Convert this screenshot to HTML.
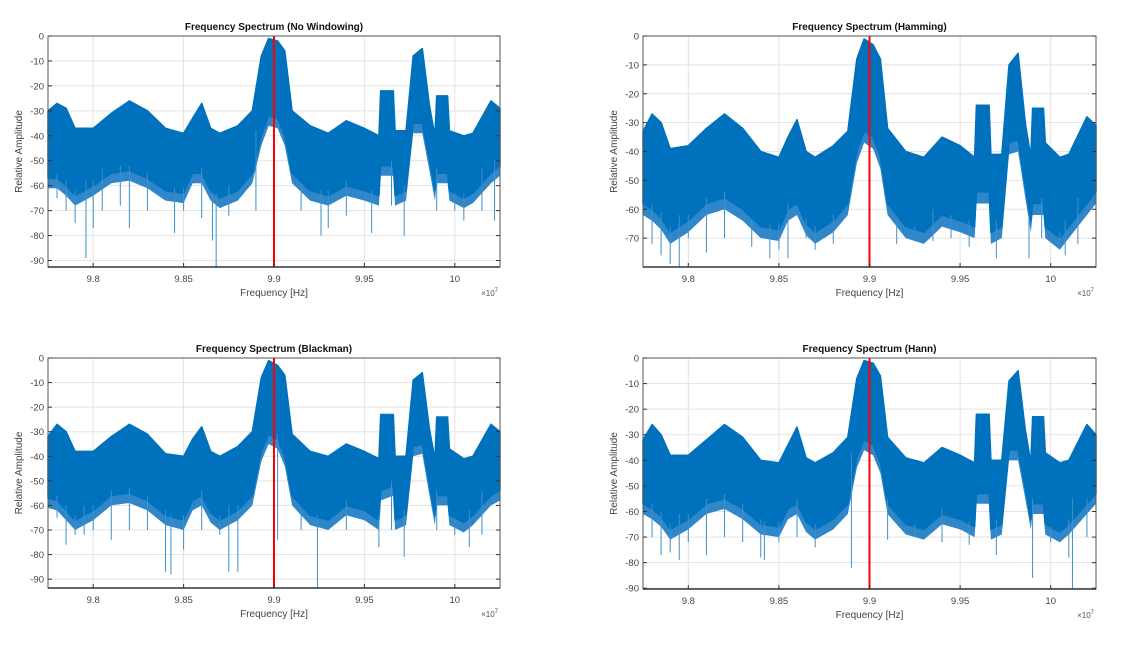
<!DOCTYPE html>
<html><head><meta charset="utf-8">
<style>
html,body{margin:0;padding:0;background:#fff;}
svg{display:block;font-family:"Liberation Sans",Arial,sans-serif;}
</style></head>
<body>
<svg id="fig" width="1137" height="650" viewBox="0 0 1137 650" xmlns="http://www.w3.org/2000/svg"></svg>
<script>
// Frequency grid (x 1e7 Hz)
const freqs = [9.775,9.78,9.785,9.79,9.80,9.81,9.82,9.83,9.84,9.85,9.855,9.86,9.865,9.87,9.88,9.888,9.893,9.897,9.902,9.906,9.91,9.92,9.93,9.94,9.95,9.958,9.959,9.966,9.967,9.973,9.977,9.982,9.986,9.989,9.990,9.996,9.997,10.005,10.01,10.02,10.025];
const xTicks = [9.8,9.85,9.9,9.95,10];
const xTickLabels = ["9.8","9.85","9.9","9.95","10"];
const markerFreq = 9.9;

// No Windowing
const upperNone = [-30,-27,-29,-37,-37,-31,-26,-30,-37,-39,-33,-27,-37,-39,-36,-30,-8,-1,-2,-6,-30,-36,-39,-34,-37,-40,-22,-22,-38,-38,-8,-5,-28,-40,-24,-24,-38,-40,-39,-26,-29];
const lowerNone = [-57,-57,-60,-64,-60,-55,-54,-57,-62,-63,-55,-55,-62,-65,-62,-55,-40,-32,-33,-40,-55,-62,-64,-60,-62,-64,-52,-52,-64,-62,-35,-35,-50,-62,-55,-55,-62,-65,-63,-55,-52];
const spikeFreqNone = [9.78,9.785,9.79,9.796,9.80,9.805,9.815,9.82,9.83,9.845,9.85,9.86,9.866,9.868,9.875,9.89,9.915,9.926,9.93,9.94,9.954,9.965,9.972,9.99,10.0,10.005,10.015,10.022];
const spikeValNone = [-65,-70,-75,-89,-77,-70,-68,-77,-70,-79,-70,-73,-82,-93,-72,-70,-70,-80,-77,-72,-79,-68,-80,-70,-70,-74,-70,-74];

// Hamming
const upperHamming = [-33,-27,-30,-39,-38,-32,-27,-32,-40,-42,-35,-29,-40,-42,-38,-33,-8,-1,-3,-8,-32,-40,-42,-35,-38,-42,-24,-24,-41,-41,-10,-6,-30,-42,-25,-25,-37,-42,-41,-28,-31];
const lowerHamming = [-58,-60,-63,-68,-64,-58,-56,-60,-66,-67,-60,-58,-65,-68,-64,-58,-40,-33,-35,-42,-58,-66,-68,-62,-64,-66,-54,-54,-68,-66,-37,-36,-52,-64,-58,-58,-66,-70,-66,-58,-54];
const spikeFreqHamming = [9.78,9.785,9.79,9.795,9.80,9.81,9.82,9.835,9.845,9.85,9.855,9.865,9.87,9.88,9.915,9.925,9.935,9.945,9.955,9.97,9.988,9.995,10.005,10.008,10.015];
const spikeValHamming = [-72,-76,-79,-80,-70,-75,-70,-73,-77,-74,-77,-70,-74,-72,-72,-70,-71,-70,-73,-77,-77,-70,-72,-76,-72];

// Blackman
const upperBlackman = [-32,-27,-30,-38,-38,-32,-27,-31,-39,-40,-33,-28,-38,-40,-36,-30,-8,-1,-3,-7,-31,-38,-40,-35,-38,-41,-23,-23,-40,-40,-9,-6,-29,-41,-24,-24,-37,-41,-40,-27,-30];
const lowerBlackman = [-57,-58,-62,-66,-62,-56,-55,-58,-64,-66,-58,-56,-63,-66,-62,-56,-38,-31,-33,-40,-56,-64,-66,-60,-62,-66,-54,-52,-66,-64,-36,-35,-52,-64,-56,-56,-64,-67,-64,-56,-54];
const spikeFreqBlackman = [9.775,9.78,9.785,9.79,9.795,9.80,9.81,9.82,9.83,9.84,9.843,9.85,9.86,9.87,9.875,9.88,9.902,9.915,9.924,9.94,9.958,9.965,9.972,9.99,10.0,10.008,10.015];
const spikeValBlackman = [-70,-65,-76,-72,-72,-70,-74,-70,-70,-87,-88,-78,-70,-72,-87,-87,-74,-70,-94,-70,-77,-70,-81,-70,-72,-77,-72];

// Hann
const upperHann = [-32,-26,-30,-38,-38,-32,-26,-31,-40,-41,-34,-27,-39,-41,-37,-31,-8,-1,-2,-7,-31,-39,-41,-35,-38,-41,-22,-22,-40,-40,-9,-5,-28,-41,-23,-23,-37,-41,-40,-26,-30];
const lowerHann = [-57,-59,-62,-67,-63,-57,-55,-59,-65,-66,-59,-57,-64,-67,-63,-57,-39,-32,-34,-41,-57,-65,-67,-61,-63,-66,-53,-53,-67,-65,-36,-36,-51,-63,-57,-57,-65,-68,-65,-57,-53];
const spikeFreqHann = [9.78,9.785,9.79,9.795,9.80,9.81,9.82,9.83,9.84,9.842,9.85,9.86,9.87,9.89,9.91,9.925,9.94,9.955,9.97,9.99,10.0,10.01,10.012,10.02];
const spikeValHann = [-70,-77,-76,-79,-72,-77,-70,-72,-78,-79,-72,-70,-74,-82,-71,-70,-72,-73,-77,-86,-72,-78,-91,-70];

const yTicks1 = [0,-10,-20,-30,-40,-50,-60,-70,-80,-90];
const yTicks2 = [0,-10,-20,-30,-40,-50,-60,-70];

const NS = "http://www.w3.org/2000/svg";
const svg = document.getElementById('fig');
function mk(tag, attrs, parent){
  const e = document.createElementNS(NS, tag);
  for (const k in attrs) e.setAttribute(k, attrs[k]);
  (parent||svg).appendChild(e);
  return e;
}

function drawPlot(key, title, box, ymin, yTicks, upper, lower, sFreq, sVal){
  const g = mk('g', {});
  
  
  const xmin = 9.775, xmax = 10.025;
  const X = v => box.l + (v - xmin) / (xmax - xmin) * (box.r - box.l);
  const Y = v => box.t + (0 - v) / (0 - ymin) * (box.b - box.t);
  xTicks.forEach((t,i) => {
    const ln = mk('line', {x1:X(t), x2:X(t), y1:box.t, y2:box.b, stroke:'#e3e3e3', 'stroke-width':1}, g);
    
    
  });
  yTicks.forEach(t => {
    const ln = mk('line', {x1:box.l, x2:box.r, y1:Y(t), y2:Y(t), stroke:'#e3e3e3', 'stroke-width':1}, g);
    
    
  });
  let fp = [];
  for (let i=0;i<freqs.length;i++) fp.push(X(freqs[i]).toFixed(1)+','+Y(Math.max(upper[i],ymin)).toFixed(1));
  for (let i=freqs.length-1;i>=0;i--) fp.push(X(freqs[i]).toFixed(1)+','+Y(Math.max(lower[i]-4,ymin)).toFixed(1));
  const fr = mk('polygon', {points:fp.join(' '), fill:'#2f86c8', stroke:'none'}, g);
  
  
  let pts = [];
  for (let i=0;i<freqs.length;i++) pts.push(X(freqs[i]).toFixed(1)+','+Y(Math.max(upper[i],ymin)).toFixed(1));
  for (let i=freqs.length-1;i>=0;i--) pts.push(X(freqs[i]).toFixed(1)+','+Y(Math.max(lower[i],ymin)).toFixed(1));
  const band = mk('polygon', {points:pts.join(' '), fill:'#0072BD', stroke:'#0072BD', 'stroke-width':1.5, 'stroke-linejoin':'round'}, g);
  
  
  for (let i=0;i<sFreq.length;i++){
    const j = freqs.findIndex(f => f >= sFreq[i]);
    const base = lower[Math.max(0,j)] + 2;
    const sp = mk('line', {x1:X(sFreq[i]), x2:X(sFreq[i]), y1:Y(base), y2:Y(Math.max(sVal[i],ymin)), stroke:'#3d8fcc', 'stroke-width':1}, g);
    
    
  }
  const rl = mk('line', {x1:X(markerFreq), x2:X(markerFreq), y1:box.t, y2:box.b, stroke:'#ff0000', 'stroke-width':2}, g);
  
  
  const ax = mk('rect', {x:box.l, y:box.t, width:box.r-box.l, height:box.b-box.t, fill:'none', stroke:'#555', 'stroke-width':1}, g);
  
  
  mk('line', {x1:box.l, x2:box.r, y1:box.b, y2:box.b, stroke:'#333', 'stroke-width':1.5}, g);
  xTicks.forEach((t,i) => {
    mk('line', {x1:X(t), x2:X(t), y1:box.b, y2:box.b-4, stroke:'#333'}, g);
    const tx = mk('text', {x:X(t), y:box.b+15, 'font-size':9.5, fill:'#444', 'text-anchor':'middle'}, g);
    tx.textContent = xTickLabels[i];
    
    
  });
  yTicks.forEach(t => {
    mk('line', {x1:box.l, x2:box.l+4, y1:Y(t), y2:Y(t), stroke:'#333'}, g);
    mk('line', {x1:box.r, x2:box.r-4, y1:Y(t), y2:Y(t), stroke:'#333'}, g);
    const tx = mk('text', {x:box.l-4, y:Y(t)+3.5, 'font-size':9.5, fill:'#444', 'text-anchor':'end'}, g);
    tx.textContent = String(t);
    
    
  });
  const ti = mk('text', {x:(box.l+box.r)/2, y:box.t-6, 'font-size':10, 'font-weight':'bold', fill:'#111', 'text-anchor':'middle'}, g);
  ti.textContent = title;
  
  
  const xl = mk('text', {x:(box.l+box.r)/2, y:box.b+29, 'font-size':10, fill:'#444', 'text-anchor':'middle'}, g);
  xl.textContent = 'Frequency [Hz]';
  
  
  const cy = (box.t+box.b)/2;
  const yl = mk('text', {x:box.l-26, y:cy, 'font-size':10, fill:'#444', 'text-anchor':'middle', transform:'rotate(-90 '+(box.l-26)+' '+cy+')'}, g);
  yl.textContent = 'Relative Amplitude';
  
  
  const ex = mk('text', {x:box.r-2, y:box.b+29, 'font-size':8, fill:'#555', 'text-anchor':'end'}, g);
  ex.innerHTML = '×10<tspan dy="-4" font-size="6">7</tspan>';
  
  
}

drawPlot('no-windowing', 'Frequency Spectrum (No Windowing)', {l:48,r:500,t:36,b:267}, -92.6, yTicks1, upperNone, lowerNone, spikeFreqNone, spikeValNone);
drawPlot('hamming', 'Frequency Spectrum (Hamming)', {l:643,r:1096,t:36,b:267}, -80, yTicks2, upperHamming, lowerHamming, spikeFreqHamming, spikeValHamming);
drawPlot('blackman', 'Frequency Spectrum (Blackman)', {l:48,r:500,t:358,b:588}, -93.6, yTicks1, upperBlackman, lowerBlackman, spikeFreqBlackman, spikeValBlackman);
drawPlot('hann', 'Frequency Spectrum (Hann)', {l:643,r:1096,t:358,b:589}, -90.3, yTicks1, upperHann, lowerHann, spikeFreqHann, spikeValHann);
</script>
</body></html>
